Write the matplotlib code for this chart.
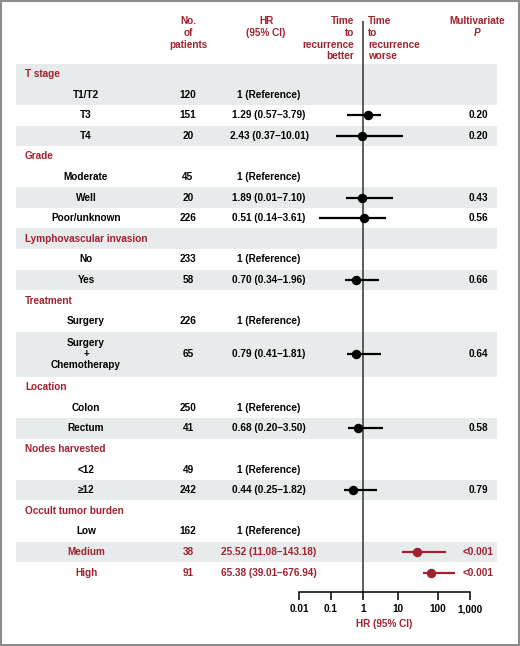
import numpy as np
import matplotlib
matplotlib.use("Agg")
import matplotlib.pyplot as plt
from matplotlib.patches import Rectangle

plt.rcParams['font.family'] = ['Liberation Sans', 'DejaVu Sans']
plt.rcParams['font.weight'] = 'bold'

RED = '#A1222F'
BAND = '#E7EBEB'
FS = 7.2

# ---- data ----
groups = ["T stage", "Grade", "Lymphovascular invasion", "Treatment",
          "Location", "Nodes harvested", "Occult tumor burden"]
levels = [["T1/T2", "T3", "T4"],
          ["Moderate", "Well", "Poor/unknown"],
          ["No", "Yes"],
          ["Surgery", "Surgery\n+\nChemotherapy"],
          ["Colon", "Rectum"],
          ["<12", "≥12"],
          ["Low", "Medium", "High"]]
n_patients = [120, 151, 20, 45, 20, 226, 233, 58, 226, 65, 250, 41, 49, 242, 162, 38, 91]
hr_text = ["1 (Reference)", "1.29 (0.57–3.79)", "2.43 (0.37–10.01)",
           "1 (Reference)", "1.89 (0.01–7.10)", "0.51 (0.14–3.61)",
           "1 (Reference)", "0.70 (0.34–1.96)",
           "1 (Reference)", "0.79 (0.41–1.81)",
           "1 (Reference)", "0.68 (0.20–3.50)",
           "1 (Reference)", "0.44 (0.25–1.82)",
           "1 (Reference)", "25.52 (11.08–143.18)", "65.38 (39.01–676.94)"]
p_text = ["", "0.20", "0.20", "", "0.43", "0.56", "", "0.66", "", "0.64",
          "", "0.58", "", "0.79", "", "<0.001", "<0.001"]
# HR and CI as drawn in the plot
nan = np.nan
hr_plot = [nan, 1.38, 0.93, nan, 0.93, 1.07, nan, 0.64, nan, 0.64, nan, 0.69, nan, 0.51, nan, 30.7, 66]
lo_plot = [nan, 0.33, 0.145, nan, 0.30, 0.041, nan, 0.28, nan, 0.33, nan, 0.35, nan, 0.26, nan, 12.7, 42]
hi_plot = [nan, 3.2, 13.4, nan, 7.3, 4.6, nan, 2.8, nan, 3.2, nan, 3.6, nan, 2.6, nan, 175, 351]
highlight = ["Medium", "High"]
shaded = ["T stage", "T1/T2", "T4", "Well", "Lymphovascular invasion", "Yes",
          "Surgery\n+\nChemotherapy", "Rectum", "≥12", "Medium"]
ticks = [0.01, 0.1, 1, 10, 100, 1000]
tick_labels = ["0.01", "0.1", "1", "10", "100", "1,000"]

# ---- build row layout ----
rows = []  # (kind, label, data index)
k = 0
for g, lv in zip(groups, levels):
    rows.append(("group", g, None))
    for name in lv:
        rows.append(("level", name, k))
        k += 1

step = 20.6
heights = [1 + 0.6 * r[1].count("\n") for r in rows]
ys = [74.0]
for i in range(1, len(rows)):
    ys.append(ys[-1] + step * (heights[i - 1] + heights[i]) / 2)

fig = plt.figure(figsize=(5.2, 6.46), dpi=100)
ax = fig.add_axes([0, 0, 1, 1])
ax.set_xlim(0, 520)
ax.set_ylim(646, 0)
ax.axis('off')
ax.add_patch(Rectangle((1, 1), 518, 644, fill=False, edgecolor='#8c8c8c', lw=1.5))

# column headers
hdr = dict(color=RED, fontsize=FS, va='top', linespacing=1.2)
ax.text(188, 16.5, "No.\nof\npatients", ha='center', **hdr)
ax.text(266, 16.5, "HR\n(95% CI)", ha='center', **hdr)
ax.text(354, 16.5, "Time\nto\nrecurrence\nbetter", ha='right', multialignment='right', **hdr)
ax.text(368, 16.5, "Time\nto\nrecurrence\nworse", ha='left', **hdr)
ax.text(477, 16.5, "Multivariate", ha='center', **hdr)
ax.text(477, 28.5, "P", ha='center', style='italic', **hdr)

for (kind, label, idx), y, h in zip(rows, ys, heights):
    if label in shaded:
        ax.add_patch(Rectangle((16, y - step * h / 2), 481, step * h,
                               facecolor=BAND, edgecolor='none', zorder=0))
    if kind == "group":
        ax.text(25, y, label, color=RED, fontsize=FS, ha='left', va='center')
        continue
    c = RED if label in highlight else 'black'
    ax.text(86, y, label, color=c, fontsize=FS, ha='center', va='center',
            linespacing=1.15)
    ax.text(188, y, str(n_patients[idx]), color=c, fontsize=FS, ha='center', va='center')
    ax.text(269, y, hr_text[idx], color=c, fontsize=FS, ha='center', va='center')
    if p_text[idx]:
        ax.text(478, y, p_text[idx], color=c, fontsize=FS, ha='center', va='center')

# ---- forest plot ----
dec = np.array([-2, -1, 0, 1, 2, 3])
pos = np.array([0, 31.4, 63.4, 99.0, 138.4, 170.7])


def fwd(x):
    return np.interp(np.log10(np.clip(x, 1e-9, None)), dec, pos)


def inv(p):
    return 10 ** np.interp(p, pos, dec)


x0, x1 = 299.3, 470.0
y_top, y_axis = 21, 592
fx = fig.add_axes([x0 / 520, 1 - y_axis / 646, (x1 - x0) / 520, (y_axis - y_top) / 646])
fx.patch.set_alpha(0)
fx.set_xscale('function', functions=(fwd, inv))
fx.set_xlim(0.01, 1000)
fx.set_ylim(y_axis, y_top)
for s in ['top', 'left', 'right']:
    fx.spines[s].set_visible(False)
fx.spines['bottom'].set_linewidth(1.1)
fx.set_yticks([])
fx.set_xticks(ticks)
fx.set_xticklabels(tick_labels)
fx.xaxis.set_minor_locator(matplotlib.ticker.NullLocator())
fx.tick_params(axis='x', length=6, width=1.1, pad=3, labelsize=FS)
fx.axvline(1, color='#333333', lw=1.1, zorder=1)
fx.set_xlabel("HR (95% CI)", color=RED, fontsize=FS, fontweight='bold', labelpad=3)

for (kind, label, idx), y in zip(rows, ys):
    if kind != "level" or np.isnan(hr_plot[idx]):
        continue
    c = RED if label in highlight else 'black'
    fx.plot([lo_plot[idx], hi_plot[idx]], [y, y], color=c, lw=1.6,
            solid_capstyle='butt', zorder=3, clip_on=False)
    fx.plot(hr_plot[idx], y, 'o', color=c, ms=5.8, zorder=4, clip_on=False)

fig.savefig("out.png", dpi=100)
